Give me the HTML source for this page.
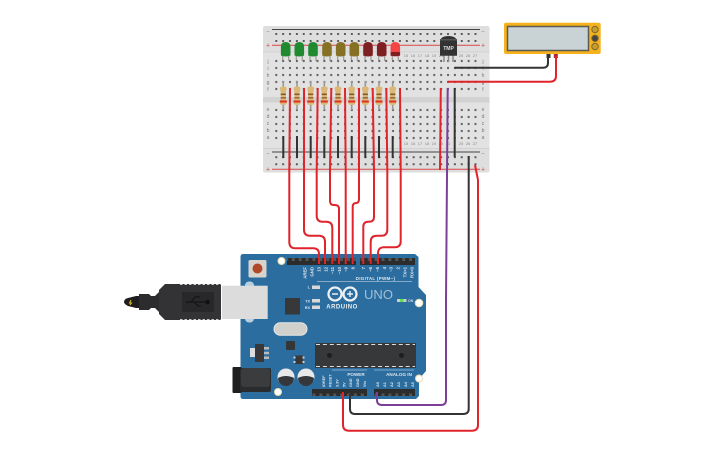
<!DOCTYPE html>
<html><head><meta charset="utf-8"><style>
html,body{margin:0;padding:0;background:#fff;width:725px;height:453px;overflow:hidden}
svg{display:block}
text{font-family:"Liberation Sans",sans-serif}
</style></head><body>
<svg width="725" height="453" viewBox="0 0 725 453" xmlns="http://www.w3.org/2000/svg">
<defs>
<pattern id="h" x="272.87" y="1.6" width="6.87" height="7" patternUnits="userSpaceOnUse"><rect x="2.4" y="2.4" width="2" height="2" rx=".5" fill="#555"/></pattern>
<pattern id="hd" x="272.87" y="0" width="6.87" height="453" patternUnits="userSpaceOnUse"><rect x="2.4" y="33" width="2" height="2" rx=".5" fill="#555"/><rect x="2.4" y="40" width="2" height="2" rx=".5" fill="#555"/><rect x="2.4" y="156.3" width="2" height="2" rx=".5" fill="#555"/><rect x="2.4" y="163.3" width="2" height="2" rx=".5" fill="#555"/></pattern>
<pattern id="pin" x="0" y="0" width="6.9" height="8" patternUnits="userSpaceOnUse"><rect x="0" y="0" width="6.9" height="8" fill="#2c2c2c"/><rect x="2" y="1.5" width="3" height="3.500" fill="#555"/></pattern>
<g id="res"><rect x="-.8" y="-8" width="1.600" height="29" fill="#999"/><path d="M-3.500-.5Q-3.500-2.500 0-2.500 3.500-2.500 3.500-.5L2.600 3V10L3.500 12V14Q3.500 16 0 16-3.500 16-3.500 14V12L-2.600 10V3Z" fill="#dcb878"/><rect x="-2.600" y="4.500" width="5.200" height="1.600" fill="#8a5a2a"/><rect x="-2.600" y="8" width="5.200" height="1.600" fill="#9a6a3a"/><rect x="-3.500" y="11.500" width="7" height="2" fill="#e03020"/></g>
<g id="led"><path d="M-3 12V18M3 12V19" stroke="#999" stroke-width="1.200"/><path d="M-4.800 5Q-4.800 0 0 0 4.800 0 4.800 5V13.500Q0 15.500-4.800 13.500Z" fill="currentColor"/></g>
</defs>

<!-- breadboard -->
<rect x="263" y="26" width="226.500" height="146.500" rx="2" fill="#dedede"/>
<rect x="263" y="52" width="226.500" height="45" fill="#e2e2e2"/>
<rect x="263" y="97" width="226.500" height="5.500" fill="#d2d2d2"/>
<rect x="263" y="102.500" width="226.500" height="45.500" fill="#e2e2e2"/>
<rect x="263" y="148" width="226.500" height="1" fill="#d2d2d2"/>
<rect x="263" y="51.500" width="226.500" height="1" fill="#d2d2d2"/>
<rect x="272.870" y="30" width="206.100" height="14" fill="url(#hd)"/>
<rect x="272.870" y="154" width="206.100" height="14" fill="url(#hd)"/>
<rect x="272.870" y="58" width="206.100" height="35" fill="url(#h)"/>
<rect x="272.870" y="107" width="206.100" height="35" fill="url(#h)"/>
<path d="M272 29.500H480M272 152H480" stroke="#444" stroke-width="1"/>
<path d="M272 45.300H480M272 169.300H480" stroke="#d8484a" stroke-width="1"/>
<g fill="#d8484a" font-size="7" text-anchor="middle"><text x="268" y="47.500">+</text><text x="483" y="47.500">+</text><text x="268" y="171.500">+</text><text x="483" y="171.500">+</text></g>
<g fill="#777" font-size="5" text-anchor="middle">
<text x="268" y="33">–</text><text x="483" y="33">–</text><text x="268" y="155">–</text><text x="483" y="155">–</text>
<text x="268" y="63">j</text><text x="268" y="70">i</text><text x="268" y="77">h</text><text x="268" y="84">g</text><text x="268" y="91">f</text>
<text x="483" y="63">j</text><text x="483" y="70">i</text><text x="483" y="77">h</text><text x="483" y="84">g</text><text x="483" y="91">f</text>
<text x="268" y="111">e</text><text x="268" y="118">d</text><text x="268" y="125">c</text><text x="268" y="132">b</text><text x="268" y="139">a</text>
<text x="483" y="111">e</text><text x="483" y="118">d</text><text x="483" y="125">c</text><text x="483" y="132">b</text><text x="483" y="139">a</text>
</g>
<g fill="#888" font-size="4" text-anchor="middle">
<text x="406" y="57">15</text><text x="413" y="57">16</text><text x="420" y="57">17</text><text x="427" y="57">18</text><text x="434" y="57">19</text><text x="441" y="57">20</text><text x="461" y="57">25</text><text x="468" y="57">26</text><text x="475" y="57">27</text>
<text x="406" y="145">15</text><text x="413" y="145">16</text><text x="420" y="145">17</text><text x="427" y="145">18</text><text x="434" y="145">19</text><text x="441" y="145">20</text><text x="448" y="145">21</text><text x="461" y="145">25</text><text x="468" y="145">26</text><text x="475" y="145">27</text>
</g>

<!-- black jumpers on board -->
<path d="M283.300 136V158M297 136V158M310.700 136V158M324.300 136V158M338 136V158M351.700 136V158M365.300 136V158M379 136V158M392.700 136V158" stroke="#333" stroke-width="2"/>

<!-- LEDs -->
<use href="#led" x="285.700" y="42" color="#1f8a2f"/>
<use href="#led" x="299.300" y="42" color="#1f8a2f"/>
<use href="#led" x="313" y="42" color="#1f8a2f"/>
<use href="#led" x="327" y="42" color="#857024"/>
<use href="#led" x="340.700" y="42" color="#857024"/>
<use href="#led" x="354.300" y="42" color="#857024"/>
<use href="#led" x="368" y="42" color="#7e1f22"/>
<use href="#led" x="381.700" y="42" color="#7e1f22"/>
<use href="#led" x="395.300" y="42" color="#f24545"/>
<rect x="390.500" y="52" width="9.600" height="4" rx="1.500" fill="#7e1f22"/>

<!-- resistors -->
<use href="#res" x="283.300" y="89"/><use href="#res" x="297" y="89"/><use href="#res" x="310.700" y="89"/><use href="#res" x="324.300" y="89"/><use href="#res" x="338" y="89"/><use href="#res" x="351.700" y="89"/><use href="#res" x="365.300" y="89"/><use href="#res" x="379" y="89"/><use href="#res" x="392.700" y="89"/>

<!-- TMP -->
<path d="M444 54V62M448.500 54V62M453 54V62" stroke="#8a8a8a" stroke-width="1.500"/>
<path d="M440 41Q441 36 448.500 36 456 36 457 41V55.700H440Z" fill="#333"/>
<rect x="440" y="39" width="17" height="1.500" fill="#555"/>
<text x="448.500" y="50" font-size="5" font-weight="bold" fill="#ddd" text-anchor="middle">TMP</text>

<!-- Multimeter -->
<rect x="504" y="22.700" width="96.700" height="31.300" rx="2" fill="#f5b21c"/>
<rect x="507.500" y="26.500" width="81" height="24" fill="#c9d2d4" stroke="#5a5a52" stroke-width="1.500"/>
<circle cx="595" cy="29.500" r="3.200" fill="#c99a2c" stroke="#7a6a30"/>
<circle cx="595" cy="38.300" r="3.200" fill="#444" stroke="#7a6a30"/>
<circle cx="595" cy="46.500" r="3.200" fill="#c99a2c" stroke="#7a6a30"/>
<rect x="546.500" y="54" width="4" height="4" fill="#333"/><rect x="553.800" y="54" width="4" height="4" fill="#b02528"/>

<!-- Arduino -->
<path d="M243 254H415L418.500 257V287L426 295V371L419 379V396L416 399H243Q240.500 399 240.500 396V257Q240.500 254 243 254Z" fill="#2c6da0"/>
<rect x="287" y="258" width="69" height="7" fill="url(#pin)"/>
<rect x="360" y="258" width="55" height="7" fill="url(#pin)"/>
<rect x="312" y="389" width="55" height="7" fill="url(#pin)"/>
<rect x="374" y="389" width="41" height="7" fill="url(#pin)"/>
<circle cx="281.500" cy="261" r="3.500" fill="#fff" stroke="#e8dcae"/>
<circle cx="419" cy="303" r="3.800" fill="#fff" stroke="#e8dcae"/>
<circle cx="278" cy="392" r="3.500" fill="#fff" stroke="#e8dcae"/>
<circle cx="419" cy="378.500" r="3.500" fill="#fff" stroke="#e8dcae"/>
<!-- reset -->
<rect x="248.500" y="260" width="18" height="17.500" rx="1.500" fill="#d8d4cc"/>
<circle cx="257.500" cy="268.500" r="5" fill="#b0482a"/>
<!-- chips -->
<rect x="285" y="298" width="15" height="16.500" fill="#36383a"/>
<rect x="274" y="322.700" width="33" height="12.600" rx="6.300" fill="#d0d0cc" stroke="#e8e8e4"/>
<rect x="286" y="341" width="9" height="9" rx="1" fill="#343638"/>
<rect x="250" y="348" width="5" height="9" fill="#ddd"/><rect x="255" y="344" width="9" height="18" fill="#36383a"/><path d="M264 347h5v2.500h-5zM264 351.700h5v2.500h-5zM264 356.500h5v2.500h-5z" fill="#bbb"/>
<rect x="295" y="355.500" width="8" height="8.500" fill="#36383a"/><path d="M293.500 356.500h2v2h-2zM293.500 361h2v2h-2zM302.500 356.500h2v2h-2zM302.500 361h2v2h-2z" fill="#ccc"/>
<rect x="315" y="343" width="101" height="25" rx="1" fill="#36383a"/>
<path d="M316 344.500H415M316 366.500H415" stroke="#ddd" stroke-width="1" stroke-dasharray="4 2.900"/>
<circle cx="329.500" cy="355.500" r="2.500" fill="#1e1e20"/><circle cx="401.500" cy="355.500" r="2.500" fill="#1e1e20"/>
<!-- caps -->
<circle cx="286" cy="377" r="8.500" fill="#e8e8e8"/><path d="M278 378A8 8 0 0 0 294 378Q286 374 278 378Z" fill="#35373a"/>
<circle cx="306" cy="377" r="8.500" fill="#e8e8e8"/><path d="M298 378A8 8 0 0 0 314 378Q306 374 298 378Z" fill="#35373a"/>
<!-- jack -->
<rect x="232.500" y="367" width="9" height="26" rx="1" fill="#1f1f20"/>
<rect x="240" y="368" width="31" height="24" rx="2" fill="#2a2b2d"/>
<rect x="241" y="368" width="29" height="19" rx="3" fill="#3b3c3e"/>
<!-- logo -->
<g fill="none" stroke="#eaf0f3" stroke-width="2.300"><circle cx="335" cy="294" r="6.500"/><circle cx="350" cy="294" r="6.500"/></g>
<path d="M332 294h6M347 294h6M350 291v6" stroke="#eaf0f3" stroke-width="1.400"/>
<text x="342" y="308.500" font-size="6" font-weight="bold" fill="#eaf0f3" text-anchor="middle" letter-spacing=".5">ARDUINO</text>
<text x="378.500" y="299" font-size="13" fill="#9fc0d6" text-anchor="middle">UNO</text>
<rect x="397" y="299" width="3" height="3" fill="#ccc"/><rect x="400" y="299" width="3.500" height="3" fill="#5fe050"/><rect x="403.500" y="299" width="3" height="3" fill="#ccc"/>
<text x="408" y="302" font-size="3.500" font-weight="bold" fill="#dde">ON</text>
<!-- small LEDs -->
<rect x="312" y="285.500" width="8" height="3.500" fill="#d8d8d8"/><rect x="312" y="299" width="8" height="3.500" fill="#d8d8d8"/><rect x="312" y="305.500" width="8" height="3.500" fill="#d8d8d8"/>
<g fill="#dde6ec" font-size="3.800" font-weight="bold" text-anchor="end"><text x="310" y="288.500">L</text><text x="310" y="302.500">TX</text><text x="310" y="309">RX</text></g>
<!-- digital labels -->
<g fill="#dde6ec" font-size="4.300" font-weight="bold" text-anchor="end">
<text transform="translate(306.500 267) rotate(-90)">AREF</text>
<text transform="translate(313.500 267) rotate(-90)">GND</text>
<text transform="translate(320.500 267) rotate(-90)">13</text>
<text transform="translate(327.500 267) rotate(-90)">12</text>
<text transform="translate(334 267) rotate(-90)">~11</text>
<text transform="translate(341 267) rotate(-90)">~10</text>
<text transform="translate(347.500 267) rotate(-90)">~9</text>
<text transform="translate(354.500 267) rotate(-90)">8</text>
<text transform="translate(365 267) rotate(-90)">7</text>
<text transform="translate(372 267) rotate(-90)">~6</text>
<text transform="translate(379 267) rotate(-90)">~5</text>
<text transform="translate(386 267) rotate(-90)">4</text>
<text transform="translate(392.500 267) rotate(-90)">~3</text>
<text transform="translate(399.500 267) rotate(-90)">2</text>
<text transform="translate(406.500 267) rotate(-90)">TX&gt;1</text>
<text transform="translate(413.500 267) rotate(-90)">RX&lt;0</text>
</g>
<path d="M317 281.500H412" stroke="#dde6ec" stroke-width=".6"/>
<text x="375.500" y="280" font-size="4.500" font-weight="bold" fill="#dde6ec" text-anchor="middle" letter-spacing=".3">DIGITAL (PWM~)</text>
<!-- bottom labels -->
<path d="M332 370H367M374 370H414" stroke="#dde6ec" stroke-width=".6"/>
<text x="356" y="376" font-size="4.600" font-weight="bold" fill="#dde6ec" text-anchor="middle">POWER</text>
<text x="399" y="376" font-size="4.600" font-weight="bold" fill="#dde6ec" text-anchor="middle">ANALOG IN</text>
<g fill="#dde6ec" font-size="3.800" font-weight="bold">
<text transform="translate(325 387) rotate(-90)">IOREF</text>
<text transform="translate(331.500 387) rotate(-90)">RESET</text>
<text transform="translate(338.500 387) rotate(-90)">3.3V</text>
<text transform="translate(345.500 387) rotate(-90)">5V</text>
<text transform="translate(352 387) rotate(-90)">GND</text>
<text transform="translate(359 387) rotate(-90)">GND</text>
<text transform="translate(366 387) rotate(-90)">Vin</text>
<text transform="translate(379 387) rotate(-90)">A0</text>
<text transform="translate(386 387) rotate(-90)">A1</text>
<text transform="translate(393 387) rotate(-90)">A2</text>
<text transform="translate(400 387) rotate(-90)">A3</text>
<text transform="translate(407 387) rotate(-90)">A4</text>
<text transform="translate(414 387) rotate(-90)">A5</text>
</g>

<!-- USB -->
<rect x="245" y="281.500" width="9" height="41" rx="4" fill="#b9cfe0"/>
<rect x="222" y="285.700" width="45.700" height="33.300" fill="#dcdcdc"/>
<path d="M165 284H221V320H165L159 314V290Z" fill="#333335"/>
<rect x="182" y="292" width="32" height="20" fill="#28282a"/>
<path d="M186 302H206" stroke="#111" stroke-width="1"/><circle cx="207.500" cy="302" r="2.300" fill="#111"/><path d="M191 302L195 297H200M194 302L198 306H201" stroke="#111" fill="none"/>
<path d="M180 284.500H221M180 319.500H221" stroke="#ccc" stroke-width="1" stroke-dasharray="2.500 2"/>
<path d="M139 294H149L151 296H155L159 292V312L155 308H151L149 310H139Z" fill="#2c2c2e"/>
<path d="M136 296H139V308H136L128 306Q124 304 124 302 124 299 128 298Z" fill="#1e1e20"/>
<path d="M131 300L129.500 303H131.500L130 305" stroke="#e8c020" fill="none" stroke-width="1"/>

<!-- wires -->
<g fill="none" stroke="#e0242b" stroke-width="2" stroke-linejoin="round">
<path d="M290 88L289.300 170V242Q289.300 248.300 295.500 248.300H313Q319 248.300 319 254V264"/>
<path d="M304 88V229.700Q304 235.700 310 235.700H319Q325 235.700 325 241.700V264"/>
<path d="M317.700 88L316.700 170V215.700Q316.700 221.700 322.700 221.700H326.300Q332.300 221.700 332.300 227.700V264"/>
<path d="M331.300 88L330 170V201Q330 205 334 205H335Q339 205 339 209V264"/>
<path d="M345 88L345.700 170V264"/>
<path d="M359 88V199Q359 203 356 203 352.700 203 352.700 207V264"/>
<path d="M372.700 88L374 170V216.700Q374 221.700 369 221.700H368.300Q363.300 221.700 363.300 226.700V264"/>
<path d="M386.300 88L387.300 170V229.700Q387.300 235.700 381.300 235.700H376.700Q370.700 235.700 370.700 241.700V264"/>
<path d="M400 88L400.700 170V241.300Q400.700 247.300 394.700 247.300H384Q378 247.300 378 253.300V264"/>
<path d="M440.800 88L440 170"/>
<path d="M447.500 81.700H550Q556 81.700 556 76V56"/>
<path d="M475 165L478 180V425Q478 430.700 472 430.700H349Q343 430.700 343 425V392"/>
</g>
<path d="M447.700 88L446 300V400Q446 405 441 405H382Q377 405 377 400V392" fill="none" stroke="#7b3f98" stroke-width="2"/>
<g fill="none" stroke="#333" stroke-width="2">
<path d="M454.700 88V157"/>
<path d="M454.500 67.700H543Q548 67.700 548 63V56"/>
<path d="M468.700 156V409Q468.700 414 463 414H355Q350 414 350 409V392"/>
</g>
</svg>
</body></html>
